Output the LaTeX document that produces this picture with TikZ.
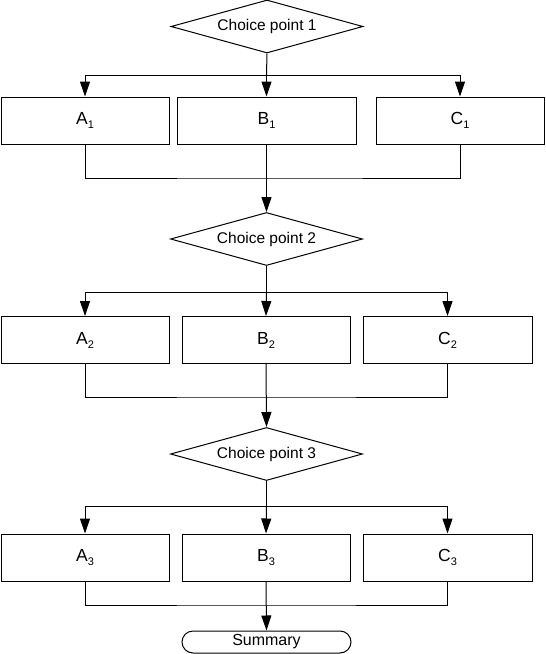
\documentclass[tikz,border=0pt]{standalone}
\usepackage{fontspec}
\setmainfont{Liberation Sans}
\usetikzlibrary{shapes.geometric,arrows.meta}
\newcommand{\low}[1]{\raisebox{-4pt}{\fontsize{11}{12}\selectfont #1}}

\begin{document}
\begin{tikzpicture}[x=1pt,y=-1pt,line width=1pt,
    choice/.style={draw,diamond,aspect=3.6,inner sep=0pt,minimum width=192pt,minimum height=53pt,font=\fontsize{15.5}{18}\selectfont},
    opt/.style={draw,rectangle,minimum height=47pt,inner sep=0pt,font=\fontsize{17.5}{20}\selectfont},
    term/.style={draw,rectangle,rounded corners=11pt,minimum width=169pt,minimum height=22pt,inner sep=0pt,font=\fontsize{16}{18}\selectfont},
    arr/.style={-{Triangle[length=15pt,width=10pt]}}]
    \useasboundingbox (0,0) rectangle (546,654);

    % Choice points
    \node[choice] (ch1) at (267,26.5) {Choice point 1};
    \node[choice] (ch2) at (266.5,239) {Choice point 2};
    \node[choice] (ch3) at (266.5,454) {Choice point 3};

    % Options
    \node[opt,minimum width=168pt] (a1) at (85,120.5) {A\low{1}};
    \node[opt,minimum width=179pt] (b1) at (266.5,120.5) {B\low{1}};
    \node[opt,minimum width=168pt] (c1) at (460,120.5) {C\low{1}};

    \node[opt,minimum width=168pt] (a2) at (85,340) {A\low{2}};
    \node[opt,minimum width=168pt] (b2) at (266,340) {B\low{2}};
    \node[opt,minimum width=169pt] (c2) at (447.5,340) {C\low{2}};

    \node[opt,minimum width=168pt] (a3) at (85,557.5) {A\low{3}};
    \node[opt,minimum width=168pt] (b3) at (266,557.5) {B\low{3}};
    \node[opt,minimum width=169pt] (c3) at (447.5,557.5) {C\low{3}};

    \node[term] (sum) at (266.5,642) {Summary};

    % Split Lines
    \coordinate (s1) at (266.5,75);
    \coordinate (s2) at (266.5,292);
    \coordinate (s3) at (266.5,506);
    \draw (ch1.south) -- (s1);
    \draw[arr] (s1) -| (a1.north);
    \draw[arr] (s1) -- (b1.north);
    \draw[arr] (s1) -| (c1.north);
    \draw (ch2.south) -- (s2);
    \draw[arr] (s2) -| (a2.north);
    \draw[arr] (s2) -- (b2.north);
    \draw[arr] (s2) -| (c2.north);
    \draw (ch3.south) -- (s3);
    \draw[arr] (s3) -| (a3.north);
    \draw[arr] (s3) -- (b3.north);
    \draw[arr] (s3) -| (c3.north);

    % Merge Lines
    \coordinate (m1) at (266.5,178);
    \coordinate (m2) at (266,397);
    \coordinate (m3) at (266,605);
    \draw (a1.south) |- (m1) -| (c1.south);
    \draw[arr] (b1.south) -- (ch2.north);
    \draw (a2.south) |- (m2) -| (c2.south);
    \draw[arr] (b2.south) -- (ch3.north);
    \draw (a3.south) |- (m3) -| (c3.south);
    \draw[arr] (b3.south) -- (sum.north);
\end{tikzpicture}
\end{document}
